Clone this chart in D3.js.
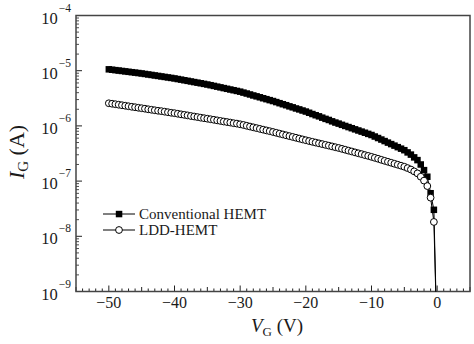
<!DOCTYPE html>
<html><head><meta charset="utf-8">
<script src="https://cdn.jsdelivr.net/npm/d3@7"></script>
<style>body{margin:0;background:#fff}svg{display:block}</style>
</head><body>
<script>
// Gate voltage sweep (V), 0.5 V steps from -50 to 0
const voltages = d3.range(-50, 0.25, 0.5);
// Gate current (A) — Conventional HEMT (filled squares)
const conventional = [
1.059e-5,1.041e-5,1.023e-5,1.006e-5,9.89e-6,9.72e-6,9.55e-6,9.39e-6,9.23e-6,9.07e-6,
8.91e-6,8.73e-6,8.55e-6,8.38e-6,8.20e-6,8.04e-6,7.87e-6,7.71e-6,7.55e-6,7.40e-6,
7.24e-6,7.06e-6,6.89e-6,6.71e-6,6.55e-6,6.38e-6,6.22e-6,6.07e-6,5.92e-6,5.77e-6,
5.62e-6,5.46e-6,5.30e-6,5.14e-6,4.99e-6,4.84e-6,4.70e-6,4.56e-6,4.43e-6,4.30e-6,
4.17e-6,4.01e-6,3.86e-6,3.71e-6,3.56e-6,3.43e-6,3.30e-6,3.17e-6,3.05e-6,2.93e-6,
2.82e-6,2.70e-6,2.58e-6,2.47e-6,2.37e-6,2.26e-6,2.17e-6,2.07e-6,1.99e-6,1.90e-6,
1.82e-6,1.73e-6,1.64e-6,1.56e-6,1.49e-6,1.41e-6,1.34e-6,1.28e-6,1.21e-6,1.15e-6,
1.10e-6,1.046e-6,9.98e-7,9.52e-7,9.08e-7,8.66e-7,8.26e-7,7.88e-7,7.52e-7,7.17e-7,
6.84e-7,6.42e-7,6.03e-7,5.66e-7,5.31e-7,4.98e-7,4.68e-7,4.39e-7,4.12e-7,3.87e-7,
3.63e-7,3.31e-7,3.02e-7,2.69e-7,2.40e-7,2.00e-7,1.58e-7,1.20e-7,6.03e-8,3.02e-8,
1e-10];
// Gate current (A) — LDD-HEMT (open circles)
const ldd = [
2.57e-6,2.52e-6,2.47e-6,2.42e-6,2.37e-6,2.32e-6,2.27e-6,2.22e-6,2.18e-6,2.13e-6,
2.09e-6,2.05e-6,2.00e-6,1.96e-6,1.92e-6,1.88e-6,1.85e-6,1.81e-6,1.77e-6,1.73e-6,
1.70e-6,1.66e-6,1.62e-6,1.585e-6,1.55e-6,1.51e-6,1.48e-6,1.445e-6,1.41e-6,1.38e-6,
1.35e-6,1.32e-6,1.29e-6,1.26e-6,1.23e-6,1.20e-6,1.175e-6,1.15e-6,1.12e-6,1.10e-6,
1.07e-6,1.04e-6,1.005e-6,9.73e-7,9.42e-7,9.12e-7,8.83e-7,8.55e-7,8.28e-7,8.02e-7,
7.76e-7,7.50e-7,7.24e-7,7.00e-7,6.76e-7,6.53e-7,6.31e-7,6.10e-7,5.89e-7,5.69e-7,
5.50e-7,5.32e-7,5.15e-7,4.99e-7,4.83e-7,4.68e-7,4.53e-7,4.39e-7,4.25e-7,4.11e-7,
3.98e-7,3.84e-7,3.70e-7,3.56e-7,3.44e-7,3.31e-7,3.19e-7,3.08e-7,2.96e-7,2.86e-7,
2.75e-7,2.64e-7,2.54e-7,2.43e-7,2.33e-7,2.24e-7,2.15e-7,2.06e-7,1.98e-7,1.90e-7,
1.82e-7,1.72e-7,1.62e-7,1.50e-7,1.38e-7,1.20e-7,1.02e-7,8.13e-8,5.01e-8,1.82e-8,
1e-10];
const xTicks = [-50, -40, -30, -20, -10, 0];
const yTickExps = [-9, -8, -7, -6, -5, -4];
const legendLabels = ["Conventional HEMT", "LDD-HEMT"];

const W = 474, H = 344;
const L = 76, R = 470, T = 15.5, B = 291.5;
const svg = d3.select("body").append("svg").attr("width", W).attr("height", H);
const x = d3.scaleLinear().domain([-55, 5]).range([L, R]);
const y = d3.scaleLog().domain([1e-9, 1e-4]).range([B, T]);
const serif = "'Liberation Serif', 'Times New Roman', serif";
const frameCol = "#444";
const txtCol = "#1a1a1a";

svg.append("defs").append("clipPath").attr("id", "clip")
  .append("rect").attr("x", L).attr("y", T).attr("width", R - L).attr("height", B - T);

// bottom axis ticks (inward)
const gx = svg.append("g");
const xMinor = d3.range(-55, 5.01, 1);
xMinor.forEach(v => {
  const isMaj = v % 10 === 0;
  const isMid = !isMaj && v % 5 === 0;
  const len = isMaj ? 6 : (isMid ? 4.5 : 3);
  gx.append("line").attr("x1", x(v)).attr("x2", x(v)).attr("y1", B).attr("y2", B - len)
    .attr("stroke", "#222").attr("stroke-width", 1);
});
xTicks.forEach(v => {
  gx.append("text").attr("x", x(v)).attr("y", 308).attr("text-anchor", "middle")
    .attr("font-family", serif).attr("font-size", 16).attr("fill", txtCol)
    .text(v < 0 ? "\u2212" + Math.abs(v) : String(v));
});

// left axis ticks (inward)
const gy = svg.append("g");
yTickExps.forEach(e => {
  gy.append("line").attr("x1", L).attr("x2", L + 6).attr("y1", y(Math.pow(10, e))).attr("y2", y(Math.pow(10, e)))
    .attr("stroke", "#222");
  if (e < -4) {
    for (let m = 2; m <= 9; m++) {
      const v = m * Math.pow(10, e);
      gy.append("line").attr("x1", L).attr("x2", L + 3).attr("y1", y(v)).attr("y2", y(v))
        .attr("stroke", "#222").attr("stroke-width", 0.8);
    }
  }
  const t = gy.append("text").attr("x", 71).attr("y", y(Math.pow(10, e)) + 8).attr("text-anchor", "end")
    .attr("font-family", serif).attr("font-size", 16.5).attr("fill", txtCol);
  t.append("tspan").text("10");
  t.append("tspan").attr("dx", 1).attr("dy", -12).attr("font-size", 11.5).text("\u2212" + Math.abs(e));
});

// frame
svg.append("rect").attr("x", L).attr("y", T).attr("width", R - L).attr("height", B - T)
  .attr("fill", "none").attr("stroke", frameCol).attr("stroke-width", 1.5);

// data
const plot = svg.append("g").attr("clip-path", "url(#clip)");
const line = d3.line().x(d => x(d[0])).y(d => y(d[1]));
const convData = voltages.map((v, i) => [v, conventional[i]]);
const lddData = voltages.map((v, i) => [v, ldd[i]]);
plot.append("path").datum(convData).attr("d", line).attr("fill", "none").attr("stroke", "#000").attr("stroke-width", 1);
plot.append("path").datum(lddData).attr("d", line).attr("fill", "none").attr("stroke", "#000").attr("stroke-width", 1);
const sq = 6.5;
plot.selectAll("rect.c").data(convData).join("rect").attr("class", "c")
  .attr("x", d => x(d[0]) - sq / 2).attr("y", d => y(d[1]) - sq / 2)
  .attr("width", sq).attr("height", sq).attr("fill", "#000");
plot.selectAll("circle.l").data(lddData).join("circle").attr("class", "l")
  .attr("cx", d => x(d[0])).attr("cy", d => y(d[1])).attr("r", 3.4)
  .attr("fill", "#fff").attr("stroke", "#000").attr("stroke-width", 1);

// legend
const lg = svg.append("g");
const rows = [214, 230];
rows.forEach((ry, i) => {
  lg.append("line").attr("x1", 103).attr("x2", 135).attr("y1", ry).attr("y2", ry).attr("stroke", "#000");
  if (i === 0) lg.append("rect").attr("x", 115.8).attr("y", ry - 3.2).attr("width", 6.5).attr("height", 6.5).attr("fill", "#000");
  else lg.append("circle").attr("cx", 119).attr("cy", ry).attr("r", 3.4).attr("fill", "#fff").attr("stroke", "#000").attr("stroke-width", 1);
  lg.append("text").attr("x", 139).attr("y", ry + 4.8).attr("font-family", serif).attr("font-size", 15).attr("fill", txtCol)
    .text(legendLabels[i]);
});

// axis titles
const xt = svg.append("text").attr("x", 277).attr("y", 332).attr("text-anchor", "middle")
  .attr("font-family", serif).attr("font-size", 19).attr("fill", txtCol);
xt.append("tspan").attr("font-style", "italic").text("V");
xt.append("tspan").attr("font-size", 13).attr("dy", 4).text("G");
xt.append("tspan").attr("dy", -4).text(" (V)");

const yt = svg.append("text").attr("transform", "translate(24,152) rotate(-90)").attr("text-anchor", "middle")
  .attr("font-family", serif).attr("font-size", 22).attr("fill", txtCol);
yt.append("tspan").attr("font-style", "italic").text("I");
yt.append("tspan").attr("font-size", 15).attr("dy", 4).text("G");
yt.append("tspan").attr("dy", -4).text("\u00a0(A)");
</script>
</body></html>
